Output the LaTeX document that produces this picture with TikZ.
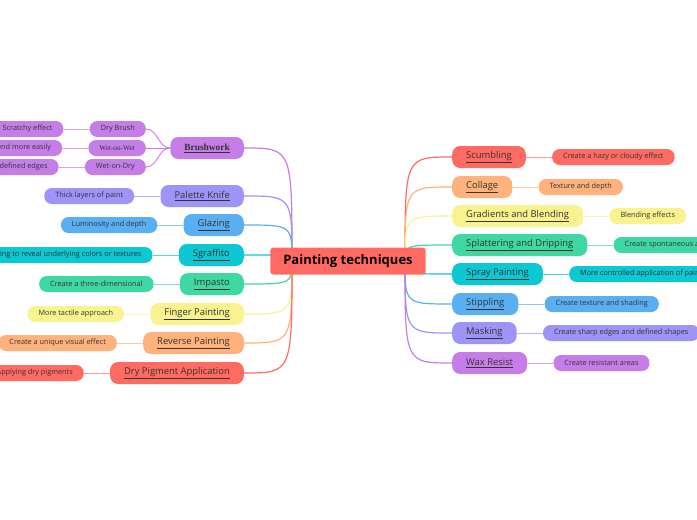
\documentclass[tikz,border=0pt]{standalone}
\usepackage{fontspec}
\setmainfont{Open Sans}
\newfontfamily\serifface{Liberation Serif}
\usetikzlibrary{positioning, backgrounds}
\definecolor{cred}{HTML}{FF6B63}
\definecolor{corange}{HTML}{FFB27C}
\definecolor{cyellow}{HTML}{F8F38E}
\definecolor{cgreen}{HTML}{40D8A2}
\definecolor{ccyan}{HTML}{0BC8D2}
\definecolor{cblue}{HTML}{5AAEF2}
\definecolor{clav}{HTML}{9E93F7}
\definecolor{cpurple}{HTML}{C57EE7}
\tikzset{
  central/.style={fill=cred, rounded corners=3pt, minimum height=27pt, inner xsep=13pt, font=\fontsize{13}{15}\selectfont\bfseries},
  topic/.style={rounded corners=8pt, minimum height=22pt, inner xsep=14pt, text=black!80, font=\fontsize{9.4}{11}\selectfont},
  leaf/.style={rounded corners=7.5pt, minimum height=16pt, inner xsep=11pt, text=black!80, font=\fontsize{7.3}{8.5}\selectfont},
  link/.style={line width=1.2pt},
  twig/.style={line width=0.9pt}
}

\begin{document}
\begin{tikzpicture}[x=1pt, y=-1pt, node distance=26pt]
\useasboundingbox (0,0) rectangle (697,520);
\node[central] (paint) at (348,261) {Painting techniques};
\coordinate (lhub) at (292,261);
\coordinate (rhub) at (405,261);

% left side
\node[topic, fill=cpurple, anchor=east] (brush) at (244,148) {\serifface\bfseries\underline{Brushwork}};
\node[topic, fill=clav, anchor=east] (knife) at (244,196) {\underline{Palette Knife}};
\node[topic, fill=cblue, anchor=east] (glaze) at (244,225) {\underline{Glazing}};
\node[topic, fill=ccyan, anchor=east] (sgraf) at (244,255) {\underline{Sgraffito}};
\node[topic, fill=cgreen, anchor=east] (impas) at (244,284) {\underline{Impasto}};
\node[topic, fill=cyellow, anchor=east] (finger) at (244,314) {\underline{Finger Painting}};
\node[topic, fill=corange, anchor=east] (revers) at (244,343) {\underline{Reverse Painting}};
\node[topic, fill=cred, anchor=east] (drypig) at (244,373) {\underline{Dry Pigment Application}};

\node[leaf, fill=cpurple, anchor=east] (drybr) at (146,129) {Dry Brush};
\node[leaf, fill=cpurple, anchor=east] (wetwet) at (146,148) {\serifface Wet-on-Wet};
\node[leaf, fill=cpurple, anchor=east] (wetdry) at (146,167) {Wet-on-Dry};
\node[leaf, fill=cpurple, left=of drybr] (scratch) {Scratchy effect};
\node[leaf, fill=cpurple, left=of wetwet] (blend) {Colors blend more easily};
\node[leaf, fill=cpurple, left=of wetdry] (edges) {Sharper, more defined edges};
\node[leaf, fill=clav, left=of knife] (thick) {Thick layers of paint};
\node[leaf, fill=cblue, left=of glaze] (lumin) {Luminosity and depth};
\node[leaf, fill=ccyan, left=of sgraf] (scrat) {Scratching to reveal underlying colors or textures};
\node[leaf, fill=cgreen, left=of impas] (three) {Create a three-dimensional};
\node[leaf, fill=cyellow, left=of finger] (tactile) {More tactile approach};
\node[leaf, fill=corange, left=of revers] (unique) {Create a unique visual effect};
\node[leaf, fill=cred, left=of drypig] (applying) {Applying dry pigments};

% right side
\node[topic, fill=cred, anchor=west] (scumb) at (452,157) {\underline{Scumbling}};
\node[topic, fill=corange, anchor=west] (collage) at (452,187) {\underline{Collage}};
\node[topic, fill=cyellow, anchor=west] (gradient) at (452,216) {\underline{Gradients and Blending}};
\node[topic, fill=cgreen, anchor=west] (splat) at (452,245) {\underline{Splattering and Dripping}};
\node[topic, fill=ccyan, anchor=west] (spray) at (452,274) {\underline{Spray Painting}};
\node[topic, fill=cblue, anchor=west] (stipp) at (452,304) {\underline{Stippling}};
\node[topic, fill=clav, anchor=west] (mask) at (452,333) {\underline{Masking}};
\node[topic, fill=cpurple, anchor=west] (wax) at (452,363) {\underline{Wax Resist}};

\node[leaf, fill=cred, right=of scumb] (hazy) {Create a hazy or cloudy effect};
\node[leaf, fill=corange, right=of collage] (texture) {Texture and depth};
\node[leaf, fill=cyellow, right=of gradient] (blendfx) {Blending effects};
\node[leaf, fill=cgreen, right=of splat] (spont) {Create spontaneous and expressive effects};
\node[leaf, fill=ccyan, right=of spray] (control) {More controlled application of paint};
\node[leaf, fill=cblue, right=of stipp] (shading) {Create texture and shading};
\node[leaf, fill=clav, right=of mask] (sharp) {Create sharp edges and defined shapes};
\node[leaf, fill=cpurple, right=of wax] (resist) {Create resistant areas};

\begin{scope}[on background layer]
\foreach \n/\c in {brush/cpurple, knife/clav, glaze/cblue, sgraf/ccyan, impas/cgreen, finger/cyellow, revers/corange, drypig/cred}
  \draw[link, \c] (\n.east) .. controls (lhub |- \n.east) .. (lhub);
\foreach \n/\c in {scumb/cred, collage/corange, gradient/cyellow, splat/cgreen, spray/ccyan, stipp/cblue, mask/clav, wax/cpurple}
  \draw[link, \c] (\n.west) .. controls (rhub |- \n.west) .. (rhub);
\end{scope}

\draw[twig, cpurple] (brush.west) to[out=180, in=0] (drybr.east);
\draw[twig, cpurple] (brush.west) -- (wetwet.east);
\draw[twig, cpurple] (brush.west) to[out=180, in=0] (wetdry.east);
\foreach \a/\b/\c in {drybr/scratch/cpurple, wetwet/blend/cpurple, wetdry/edges/cpurple, knife/thick/clav, glaze/lumin/cblue, sgraf/scrat/ccyan, impas/three/cgreen, finger/tactile/cyellow, revers/unique/corange, drypig/applying/cred}
  \draw[twig, \c!70] (\a.west) -- (\b.east);
\foreach \a/\b/\c in {scumb/hazy/cred, collage/texture/corange, gradient/blendfx/cyellow, splat/spont/cgreen, spray/control/ccyan, stipp/shading/cblue, mask/sharp/clav, wax/resist/cpurple}
  \draw[twig, \c!70] (\a.east) -- (\b.west);
\end{tikzpicture}
\end{document}
